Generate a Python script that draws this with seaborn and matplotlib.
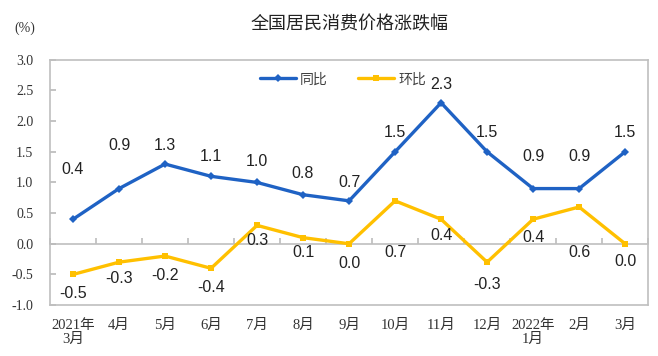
"""
CPI month-on-month / year-on-year chart
"""
import numpy as np
import pandas as pd
import matplotlib
matplotlib.use('Agg')
import matplotlib.pyplot as plt
import seaborn as sns

sns.set_theme(style='white')
plt.rcParams['font.family'] = ['Noto Sans CJK SC', 'DejaVu Sans']

# ── data ──────────────────────────────────────────────────────────────────────
months = ['2021年\n3月', '4月', '5月', '6月', '7月', '8月', '9月', '10月',
          '11月', '12月', '2022年\n1月', '2月', '3月']
yoy = [0.4, 0.9, 1.3, 1.1, 1.0, 0.8, 0.7, 1.5, 2.3, 1.5, 0.9, 0.9, 1.5]
mom = [-0.5, -0.3, -0.2, -0.4, 0.3, 0.1, 0.0, 0.7, 0.4, -0.3, 0.4, 0.6, 0.0]
y_ticks = [-1.0, -0.5, 0.0, 0.5, 1.0, 1.5, 2.0, 2.5, 3.0]

# label offsets in points (label placement only)
yoy_off = [36, 31, 13, 14, 15, 15, 13, 14, 13, 14, 23, 23, 14]
mom_off = [-14, -12, -14, -14, -11, -11, -14, -37, -12, -16, -13, -33, -13]

BLUE = '#1f62c4'
GOLD = '#ffc000'

df = pd.DataFrame({'pos': np.arange(len(months)), '同比': yoy, '环比': mom})

fig = plt.figure(figsize=(6.58, 3.56), dpi=100)
ax = fig.add_axes([0.076, 0.143, 0.909, 0.689])

sns.lineplot(data=df, x='pos', y='同比', ax=ax, color=BLUE, linewidth=2.4,
             marker='D', markersize=4, markeredgewidth=0, label='同比')
sns.lineplot(data=df, x='pos', y='环比', ax=ax, color=GOLD, linewidth=2.4,
             marker='s', markersize=4, markeredgewidth=0, label='环比')

for i, (v, o) in enumerate(zip(yoy, yoy_off)):
    ax.annotate(f'{v:.1f}', (i, v), xytext=(0, o), textcoords='offset points',
                ha='center', va='center', fontsize=11.5, color='#222222',
                family=['Liberation Sans'])
for i, (v, o) in enumerate(zip(mom, mom_off)):
    ax.annotate(f'{v:.1f}', (i, v), xytext=(0, o), textcoords='offset points',
                ha='center', va='center', fontsize=11.5, color='#222222',
                family=['Liberation Sans'])

ax.set_xlim(-0.5, len(months) - 0.5)
ax.set_ylim(-1.0, 3.0)
ax.set_yticks(y_ticks)
ax.set_yticklabels([f'{t:.1f}' for t in y_ticks], family=['Liberation Serif'],
                   fontsize=10, color='#333333')
ax.set_xticks(np.arange(len(months)))
ax.set_xticklabels(months, family=['Liberation Serif', 'Noto Sans CJK SC'],
                   fontsize=10.5, color='#333333', linespacing=1.1)
ax.tick_params(axis='x', length=0, pad=10)
ax.tick_params(axis='y', direction='in', length=4, color='#bbbbbb', left=True, pad=12)
ax.set_xlabel('')
ax.set_ylabel('')
for s in ax.spines.values():
    s.set_color('#bfbfbf')
    s.set_linewidth(1.2)

# zero line with boundary tick marks
zero = ax.secondary_xaxis((0 - (-1.0)) / 4.0)
zero.set_xticks(np.arange(len(months) + 1) - 0.5)
zero.set_xticklabels([])
zero.tick_params(axis='x', direction='in', length=4, color='#bfbfbf')
zero.spines['bottom'].set_color('#bfbfbf')
zero.spines['bottom'].set_linewidth(1.2)

leg = ax.legend(loc='upper center', ncol=2, frameon=False, fontsize=10,
                handlelength=2.6, columnspacing=2.2, handletextpad=0.3,
                bbox_to_anchor=(0.49, 1.0))
for t in leg.get_texts():
    t.set_color('#404040')

ax.set_title('全国居民消费价格涨跌幅', fontsize=13, color='#222222', pad=22)
fig.text(0.022, 0.91, '(%)', family=['Liberation Serif'], fontsize=10, color='#333333')

plt.savefig('out.png', dpi=100)
plt.close()
